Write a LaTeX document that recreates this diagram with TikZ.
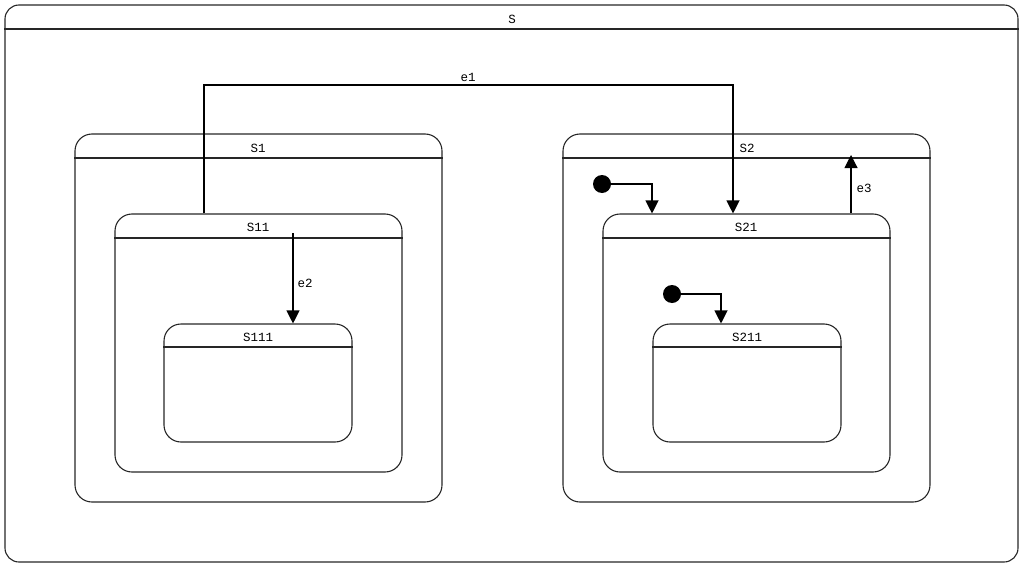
\documentclass[tikz,border=0pt]{standalone}
\usepackage{fontspec}
\setmonofont{Liberation Mono}
\usetikzlibrary{arrows.meta,calc}
\begin{document}
\begin{tikzpicture}[x=1pt,y=-1pt,
  state/.style={draw=black!85,line width=1.1pt,rounded corners=17pt,inner sep=0pt},
  title/.style={font=\ttfamily\fontsize{12.5}{14}\selectfont,inner sep=0pt,anchor=center},
  hdr/.style={draw=black!85,line width=1.1pt},
  arr/.style={draw=black,line width=1.1pt,-{Triangle[width=13pt,length=13pt]}},
  init/.style={circle,fill=black,minimum size=18pt,inner sep=0pt}]
\useasboundingbox (0,0) rectangle (1024,567);
% outer state S
\node[state,rounded corners=14pt,minimum width=1013pt,minimum height=557pt] (S) at (511.5,283.5) {};
\draw[hdr] (S.west |- 0,29) -- (S.east |- 0,29);
\node[title] (tS) at (512,19) {S};
% S1
\node[state,minimum width=367pt,minimum height=368pt] (S1) at (258.5,318) {};
\draw[hdr] (S1.west |- 0,158) -- (S1.east |- 0,158);
\node[title] (tS1) at (258,148) {S1};
% S11
\node[state,minimum width=287pt,minimum height=258pt] (S11) at (258.5,343) {};
\draw[hdr] (S11.west |- 0,238) -- (S11.east |- 0,238);
\node[title] (tS11) at (258,227) {S11};
% S111
\node[state,minimum width=188pt,minimum height=118pt] (S111) at (258,383) {};
\draw[hdr] (S111.west |- 0,347) -- (S111.east |- 0,347);
\node[title] (tS111) at (258,337) {S111};
% S2
\node[state,minimum width=367pt,minimum height=368pt] (S2) at (746.5,318) {};
\draw[hdr] (S2.west |- 0,158) -- (S2.east |- 0,158);
\node[title] (tS2) at (747,148) {S2};
% S21
\node[state,minimum width=287pt,minimum height=258pt] (S21) at (746.5,343) {};
\draw[hdr] (S21.west |- 0,238) -- (S21.east |- 0,238);
\node[title] (tS21) at (746,227) {S21};
% S211
\node[state,minimum width=188pt,minimum height=118pt] (S211) at (747,383) {};
\draw[hdr] (S211.west |- 0,347) -- (S211.east |- 0,347);
\node[title] (tS211) at (747,337) {S211};
% initial pseudostates
\node[init] (i1) at (602,184) {};
\node[init] (i2) at (672,294) {};
% helper coordinates
\coordinate (x204) at (204,0);
\coordinate (x733) at (733,0);
\coordinate (x652) at (652,0);
\coordinate (x721) at (721,0);
\coordinate (x293) at (293,0);
\coordinate (x851) at (851,0);
\coordinate (e1top) at (204,85);
\coordinate (e2start) at (293,233);
\coordinate (e3end) at (851,155);
% e1
\draw[arr] (S11.north -| x204) -- (e1top) -| (S21.north -| x733);
\node[title] (le1) at (468,77) {e1};
% e2
\draw[arr] (e2start) -- (S111.north -| x293);
\node[title] (le2) at (305,283) {e2};
% e3
\draw[arr] (S21.north -| x851) -- (e3end);
\node[title] (le3) at (864,188) {e3};
% initial transitions
\draw[arr] (i1) -| (S21.north -| x652);
\draw[arr] (i2) -| (S211.north -| x721);
\end{tikzpicture}
\end{document}
